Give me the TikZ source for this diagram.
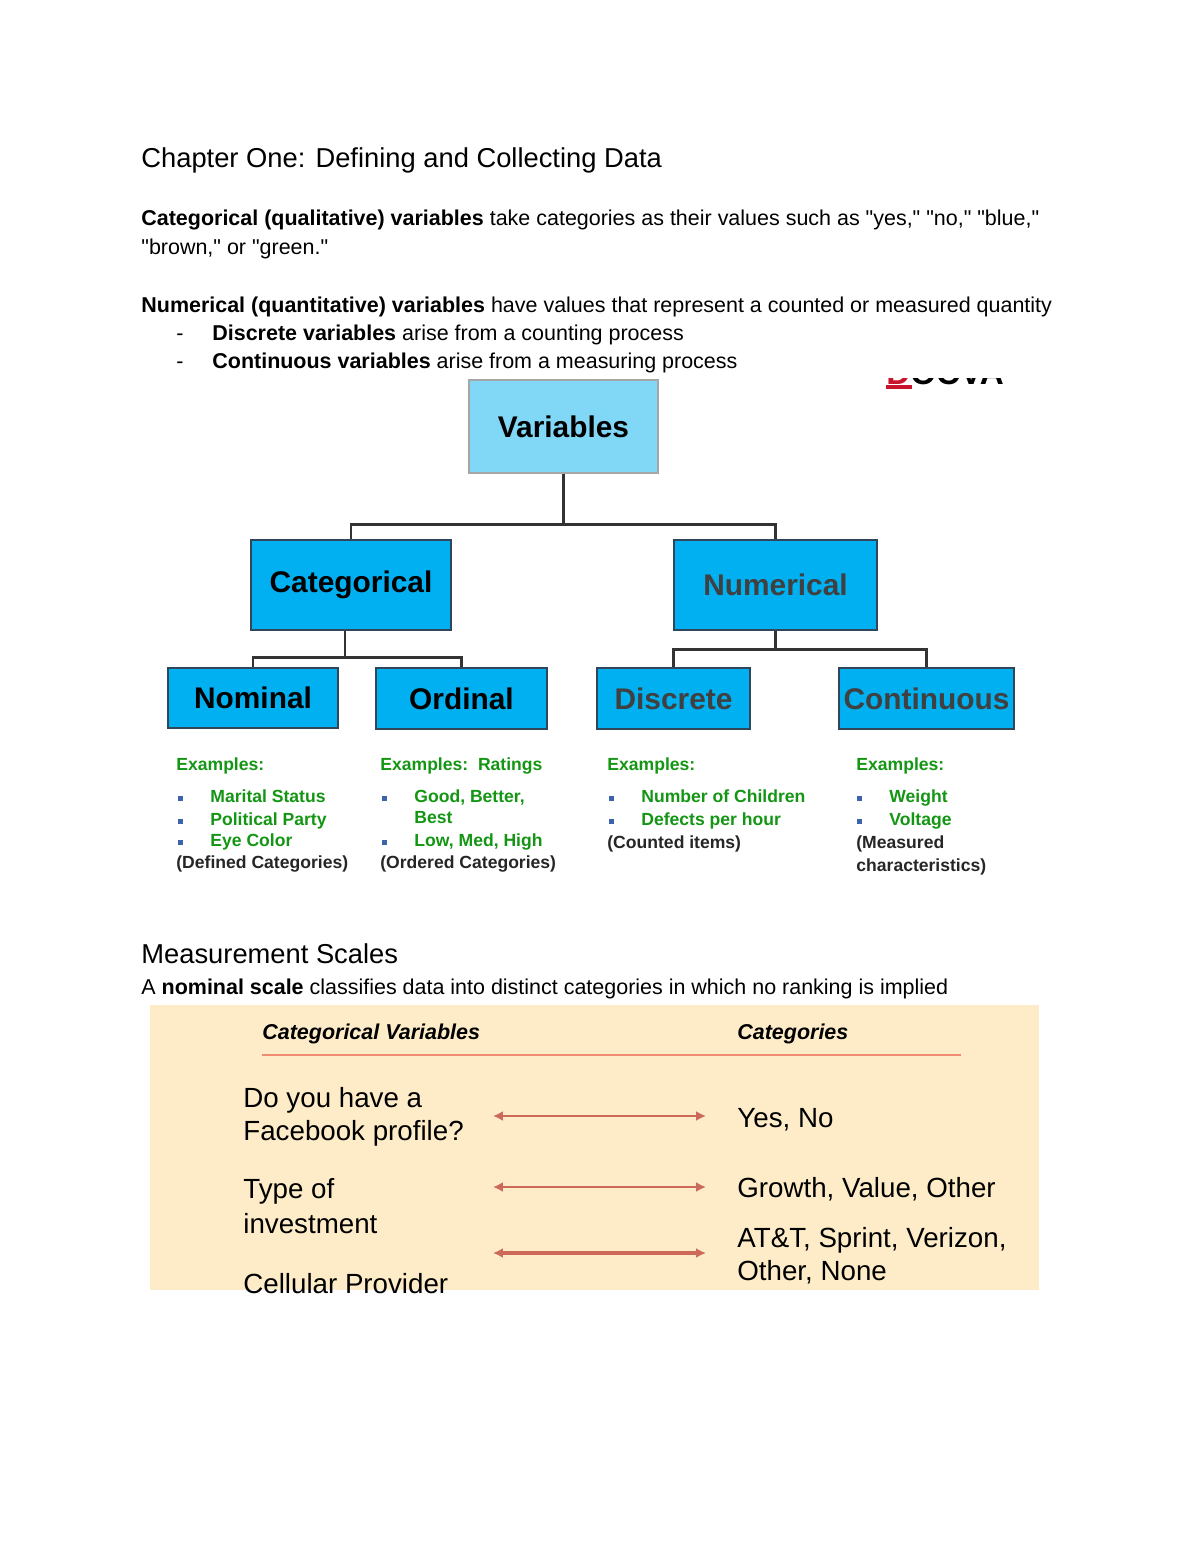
\documentclass[tikz,border=0pt]{standalone}
\usepackage{fontspec}
\setmainfont{Liberation Sans}
\newfontfamily\rawfont{Liberation Sans}
\usetikzlibrary{arrows.meta}
\definecolor{varblue}{RGB}{128,216,246}
\definecolor{boxblue}{RGB}{0,176,240}
\definecolor{boxline}{RGB}{50,70,90}
\definecolor{darktext}{RGB}{64,64,64}
\definecolor{exgreen}{RGB}{20,150,20}
\definecolor{bulblue}{RGB}{60,100,170}
\definecolor{tablebg}{RGB}{253,236,199}
\definecolor{rulesalmon}{RGB}{240,140,115}
\definecolor{arrowred}{RGB}{205,105,90}
\definecolor{logored}{RGB}{200,20,45}
\newcommand{\pxu}{0.018cm}
\newcommand{\sq}{{\rawfont\symbol{34}}}
% bullet and green item of an example list
\newcommand{\exitem}[3]{%
  \node[bul] at (#1-30,#2-4) {};
  \node[ex] at (#1,#2) {#3};}

\begin{document}
\begin{tikzpicture}[x=0.018cm, y=-0.018cm,
  body/.style={anchor=base west, inner sep=0, font=\fontsize{11}{13}\selectfont},
  head/.style={anchor=base west, inner sep=0, font=\fontsize{14}{17}\selectfont},
  treebox/.style={draw=boxline, line width=0.6pt, fill=boxblue, inner sep=0,
    font=\fontsize{15.3}{18}\selectfont\bfseries},
  link/.style={draw=black!80, line width=1.3pt},
  ex/.style={anchor=base west, inner sep=0, text=exgreen, font=\fontsize{9}{11}\selectfont\bfseries},
  note/.style={anchor=base west, inner sep=0, text=black!85, font=\fontsize{9}{11}\selectfont\bfseries},
  bul/.style={fill=bulblue, minimum size=5*\pxu, inner sep=0},
  tab/.style={anchor=base west, inner sep=0, font=\fontsize{14.2}{17}\selectfont},
  tabhead/.style={anchor=base west, inner sep=0, font=\fontsize{11}{13}\selectfont\bfseries\itshape},
  pairarrow/.style={draw=arrowred, line width=1.4pt, {Latex[length=5pt,width=5pt]}-{Latex[length=5pt,width=5pt]}}]
  \fill[white] (0,0) rectangle (1200,1553);
  \useasboundingbox (0,0) rectangle (1200,1553);

  % text above the tree
  \node[head] (title) at (141,167) {Chapter One: Defining and Collecting Data};
  \node[body] (catline) at (141,225) {\textbf{Categorical (qualitative) variables} take categories as their values such as \sq yes,\sq{} \sq no,\sq{} \sq blue,\sq};
  \node[body] (catline2) at (141,254) {\sq brown,\sq{} or \sq green.\sq};
  \node[body] (numline) at (141,312) {\textbf{Numerical (quantitative) variables} have values that represent a counted or measured quantity};
  \node[body] (dash1) at (176,340) {-};
  \node[body] (disline) at (212,340) {\textbf{Discrete variables} arise from a counting process};
  \node[body] (dash2) at (176,368) {-};
  \node[body] (conline) at (212,368) {\textbf{Continuous variables} arise from a measuring process};

  % clipped logo
  \begin{scope}
    \clip (880,378) rectangle (1020,392);
    \node[anchor=base west, inner sep=0, font=\fontsize{17}{17}\selectfont\bfseries] (logo) at (886,384) {\textcolor{logored}{D}OCVA};
    \fill[logored] (886,385) rectangle (912,389);
  \end{scope}

  % tree
  \node[treebox, fill=varblue, draw=black!35, minimum width=189*\pxu, minimum height=93*\pxu] (vars) at (563.5,426.5) {Variables};
  \node[treebox, minimum width=200*\pxu, minimum height=90*\pxu] (cat) at (351,585) {Categorical};
  \node[treebox, text=darktext, minimum width=203*\pxu, minimum height=90*\pxu] (num) at (775.5,585) {Numerical};
  \node[treebox, minimum width=170*\pxu, minimum height=60*\pxu] (nom) at (253,698) {Nominal};
  \node[treebox, minimum width=171*\pxu, minimum height=61*\pxu] (ord) at (461.5,698.5) {Ordinal};
  \node[treebox, text=darktext, minimum width=153*\pxu, minimum height=61*\pxu] (dis) at (673.5,698.5) {Discrete};
  \node[treebox, text=darktext, minimum width=175*\pxu, minimum height=61*\pxu] (con) at (926.5,698.5) {Continuous};

  \draw[link] (vars.south) -- ++(0,51) coordinate (vj) -| (cat.north);
  \draw[link] (vj) -| (num.north);
  \draw[link] ([xshift=-6*\pxu]cat.south) -- ++(0,27) coordinate (cj) -| (nom.north);
  \draw[link] (cj) -| (ord.north);
  \draw[link] (num.south) -- ++(0,19) coordinate (nj) -| (dis.north);
  \draw[link] (nj) -| (con.north);

  % examples under the tree
  \node[ex] (ex1) at (176,770) {Examples:};
  \exitem{210}{802}{Marital Status}
  \exitem{210}{825}{Political Party}
  \exitem{210}{846}{Eye Color}
  \node[note] (nt1) at (176,868) {(Defined Categories)};

  \node[ex] (ex2) at (380,770) {Examples:\ \ Ratings};
  \exitem{414}{802}{Good, Better,}
  \node[ex] (best) at (414,823) {Best};
  \exitem{414}{846}{Low, Med, High}
  \node[note] (nt2) at (380,868) {(Ordered Categories)};

  \node[ex] (ex3) at (607,770) {Examples:};
  \exitem{641}{802}{Number of Children}
  \exitem{641}{825}{Defects per hour}
  \node[note] (nt3) at (607,848) {(Counted items)};

  \node[ex] (ex4) at (856,770) {Examples:};
  \exitem{889}{802}{Weight}
  \exitem{889}{825}{Voltage}
  \node[note] (nt4) at (856,848) {(Measured};
  \node[note] (nt4b) at (856,871) {characteristics)};

  % measurement scales
  \node[head] (scales) at (141,963) {Measurement Scales};
  \node[body] (nomline) at (141,994) {A \textbf{nominal scale} classifies data into distinct categories in which no ranking is implied};

  \fill[tablebg] (150,1005) rectangle (1039,1290);
  \node[tabhead] (hvar) at (262,1039) {Categorical Variables};
  \node[tabhead] (hcat) at (737,1039) {Categories};
  \draw[rulesalmon, line width=1.5pt] (262,1055) -- (961,1055);

  \node[tab] (q1a) at (243,1107) {Do you have a};
  \node[tab] (q1b) at (243,1140) {Facebook profile?};
  \node[tab] (r1) at (737,1127) {Yes, No};
  \node[tab] (q2a) at (243,1198) {Type of};
  \node[tab] (q2b) at (243,1233) {investment};
  \node[tab] (r2) at (737,1197) {Growth, Value, Other};
  \node[tab] (q3) at (243,1293) {Cellular Provider};
  \node[tab] (r3a) at (737,1247) {AT\&T, Sprint, Verizon,};
  \node[tab] (r3b) at (737,1280) {Other, None};

  \coordinate (a1l) at (493,1116); \coordinate (a1r) at (706,1116);
  \coordinate (a2l) at (493,1187); \coordinate (a2r) at (706,1187);
  \coordinate (a3l) at (493,1253); \coordinate (a3r) at (706,1253);
  \draw[pairarrow] (a1l) -- (a1r);
  \draw[pairarrow] (a2l) -- (a2r);
  \draw[pairarrow, line width=1.8pt] (a3l) -- (a3r);
\end{tikzpicture}
\end{document}
